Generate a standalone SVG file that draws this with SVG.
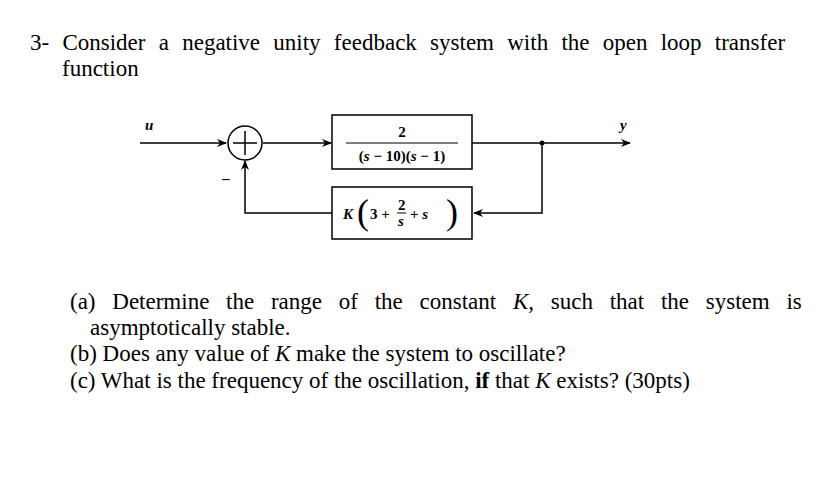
<svg xmlns="http://www.w3.org/2000/svg" width="819" height="482" viewBox="0 0 819 482">
<style>
.t{font-family:"Liberation Serif",serif;font-size:23px;fill:#000}
.m{font-family:"Liberation Serif",serif;font-size:15px;font-weight:bold;fill:#000}
.l{stroke:#000;stroke-width:1.5;fill:none}
</style>
<defs><marker id="a" markerWidth="10" markerHeight="8" refX="9" refY="4" orient="auto" markerUnits="userSpaceOnUse"><path d="M0,0L10,4L0,8L3,4Z" fill="#000"/></marker></defs>
<rect width="819" height="482" fill="#fff"/>
<text class="t" x="30" y="50" word-spacing="7.5">3- Consider a negative unity feedback system with the open loop transfer</text>
<text class="t" x="62" y="76">function</text>
<g id="connectors">
<path class="l" d="M140,143H226" marker-end="url(#a)"/>
<path class="l" d="M263,143H331" marker-end="url(#a)"/>
<path class="l" d="M472,143H630" marker-end="url(#a)"/>
<path class="l" d="M542,143V213H474" marker-end="url(#a)"/>
<path class="l" d="M332,213H245V161" marker-end="url(#a)"/>
<circle cx="542" cy="143" r="2.5" fill="#000"/>
</g>
<text x="145" y="130" class="m" font-style="italic">u</text>
<text x="620" y="130" class="m" font-style="italic">y</text>
<text x="222" y="183" class="m">–</text>
<g id="sum"><circle class="l" cx="245" cy="143" r="17"/><path class="l" d="M233,143H257M245,131V155"/></g>
<g id="G"><rect class="l" x="332" y="115" width="140" height="54"/>
<text class="m" x="402" y="137" text-anchor="middle">2</text>
<path d="M346,143H458" stroke="#000" stroke-width="1"/>
<text class="m" x="402" y="161" text-anchor="middle">(<tspan font-style="italic">s</tspan> − 10)(<tspan font-style="italic">s</tspan> − 1)</text></g>
<g id="H"><rect class="l" x="332" y="187" width="140" height="52"/>
<text class="m" x="343" y="219"><tspan font-style="italic">K</tspan></text>
<text x="357" y="224" font-family="Liberation Serif,serif" font-size="36">(</text>
<text class="m" x="370" y="219">3 +</text>
<text class="m" x="398" y="210" font-size="12">2</text>
<path d="M397,213H406" stroke="#000"/>
<text class="m" x="398" y="226" font-size="12" font-style="italic">s</text>
<text class="m" x="410" y="219">+ <tspan font-style="italic">s</tspan></text>
<text x="446" y="224" font-family="Liberation Serif,serif" font-size="36">)</text></g>
<text class="t" x="70" y="309" word-spacing="11">(a) Determine the range of the constant <tspan font-style="italic">K,</tspan> such that the system is</text>
<text class="t" x="90" y="335">asymptotically stable.</text>
<text class="t" x="70" y="361">(b) Does any value of <tspan font-style="italic">K</tspan> make the system to oscillate?</text>
<text class="t" x="70" y="388">(c) What is the frequency of the oscillation, <tspan font-weight="bold">if</tspan> that <tspan font-style="italic">K</tspan> exists?  (30pts)</text>
</svg>
